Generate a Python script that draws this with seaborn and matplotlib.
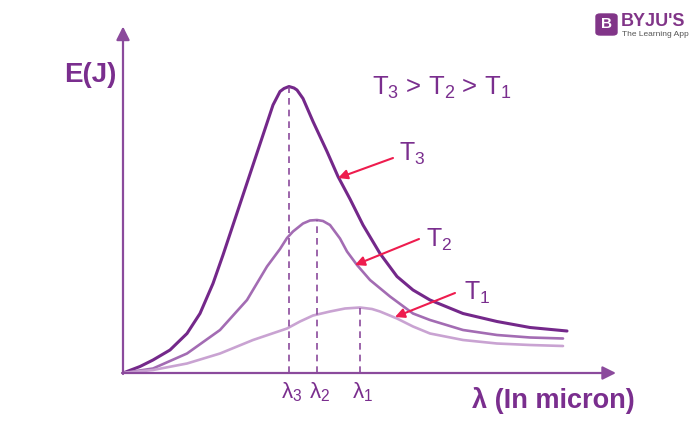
import matplotlib
matplotlib.use("Agg")
import matplotlib.pyplot as plt
from matplotlib.patches import FancyBboxPatch
import seaborn as sns
import pandas as pd

sns.set_style("white")
plt.rcParams['font.family'] = ['Liberation Sans', 'DejaVu Sans']
plt.rcParams['mathtext.fontset'] = 'custom'
plt.rcParams['mathtext.rm'] = 'Liberation Sans'
plt.rcParams['mathtext.it'] = 'Liberation Sans'

# curve samples (wavelength, energy; arbitrary units)
t3_x = [0, 0.34, 0.60, 0.94, 1.28, 1.54, 1.80, 2.00, 2.20, 2.40, 2.60, 2.80, 3.00,
        3.14, 3.22, 3.32, 3.42, 3.48, 3.60, 3.80, 4.08, 4.30, 4.54, 4.80, 5.14,
        5.48, 5.80, 6.14, 6.80, 7.48, 8.14, 8.88]
t3_e = [0, 0.13, 0.26, 0.46, 0.79, 1.19, 1.79, 2.36, 2.96, 3.56, 4.16, 4.76, 5.36,
        5.63, 5.69, 5.73, 5.70, 5.66, 5.49, 5.03, 4.43, 3.93, 3.48, 2.96, 2.39,
        1.93, 1.66, 1.46, 1.19, 1.03, 0.91, 0.84]

t2_x = [0, 0.60, 1.28, 1.94, 2.48, 2.88, 3.14, 3.28, 3.40, 3.60, 3.74, 3.88, 4.00,
        4.14, 4.34, 4.48, 4.68, 4.94, 5.34, 5.80, 6.14, 6.80, 7.48, 8.14, 8.80]
t2_e = [0, 0.09, 0.39, 0.86, 1.46, 2.13, 2.48, 2.70, 2.83, 2.99, 3.05, 3.06, 3.04,
        2.96, 2.69, 2.43, 2.16, 1.86, 1.53, 1.19, 1.06, 0.86, 0.76, 0.71, 0.69]

t1_x = [0, 0.60, 1.28, 1.94, 2.60, 3.28, 3.54, 3.80, 4.14, 4.44, 4.74, 4.98, 5.14,
        5.48, 5.80, 6.14, 6.80, 7.48, 8.14, 8.80]
t1_e = [0, 0.06, 0.19, 0.39, 0.66, 0.89, 1.03, 1.15, 1.23, 1.29, 1.31, 1.28, 1.23,
        1.09, 0.93, 0.79, 0.66, 0.59, 0.56, 0.54]

peak_lams = [3.32, 3.88, 4.74]
peak_es = [5.73, 3.06, 1.31]
lam_labels = ["λ$_3$", "λ$_2$", "λ$_1$"]
curve_labels = ["T$_3$", "T$_2$", "T$_1$"]

purple = "#7a2e8e"
axis_c = "#8b4a9c"
curve_colors = ["#74288a", "#a36cb3", "#c9a3d2"]
red = "#ee1c4e"

fig = plt.figure(figsize=(7, 4.26), dpi=100)
ax = fig.add_axes([123 / 700, 53 / 426, 500 / 700, 350 / 426])

curves = [(t3_x, t3_e, 2.2), (t2_x, t2_e, 1.9), (t1_x, t1_e, 1.9)]
for (xs, es, lw), c in zip(curves, curve_colors):
    df = pd.DataFrame({"lam": xs, "E": es})
    sns.lineplot(data=df, x="lam", y="E", color=c, lw=lw, ax=ax,
                 sort=False, estimator=None, solid_capstyle="round",
                 solid_joinstyle="round")

# dashed drop lines from the peaks
for lx, pe in zip(peak_lams, peak_es):
    ax.plot([lx, lx], [0, pe], color=axis_c, lw=1.2, ls=(0, (4, 3)))

for lx, lab in zip(peak_lams, lam_labels):
    ax.text(lx + 0.06, -0.38, lab, color=purple, fontsize=16,
            ha="center", va="center")

# axes as arrows
ax.annotate("", xy=(0, 6.93), xytext=(0, -0.02),
            arrowprops=dict(arrowstyle="-|>", color=axis_c, lw=1.6,
                            mutation_scale=20, shrinkA=0, shrinkB=0))
ax.annotate("", xy=(9.86, 0), xytext=(-0.02, 0),
            arrowprops=dict(arrowstyle="-|>", color=axis_c, lw=1.6,
                            mutation_scale=20, shrinkA=0, shrinkB=0))

ax.text(-0.66, 5.96, "E(J)", color=purple, fontsize=20, fontweight="bold",
        ha="center", va="center")
ax.text(8.6, -0.54, "λ (In micron)", color=purple, fontsize=19.5,
        fontweight="bold", ha="center", va="center")
ax.text(6.38, 5.7, "T$_3$ > T$_2$ > T$_1$", color=purple, fontsize=18.5,
        ha="center", va="center")

# pointer arrows to each curve
label_pos = [(5.78, 4.38), (6.32, 2.66), (7.08, 1.6)]
arrow_from = [(5.40, 4.30), (5.92, 2.68), (6.64, 1.60)]
arrow_to = [(4.30, 3.90), (4.64, 2.16), (5.44, 1.12)]
for lab, lp, a0, a1 in zip(curve_labels, label_pos, arrow_from, arrow_to):
    ax.text(lp[0], lp[1], lab, color=purple, fontsize=18, ha="center", va="center")
    ax.annotate("", xy=a1, xytext=a0,
                arrowprops=dict(arrowstyle="-|>", color=red, lw=1.5,
                                mutation_scale=14, shrinkA=0, shrinkB=0))

ax.set_xlim(0, 10)
ax.set_ylim(0, 7)
ax.axis("off")

# logo
fig.patches.append(FancyBboxPatch((596 / 700, 1 - 35 / 426), 21 / 700, 21 / 426,
                                  boxstyle="round,pad=0,rounding_size=0.006",
                                  transform=fig.transFigure, color="#813588"))
fig.text(606.5 / 700, 1 - 24 / 426, "B", color="white", fontsize=11,
         fontweight="bold", ha="center", va="center")
fig.text(621 / 700, 1 - 21 / 426, "BYJU'S", color="#813588", fontsize=13,
         fontweight="bold", ha="left", va="center")
fig.text(622 / 700, 1 - 35 / 426, "The Learning App", color="#555555",
         fontsize=6, ha="left", va="center")

fig.savefig("out.png", dpi=100)
